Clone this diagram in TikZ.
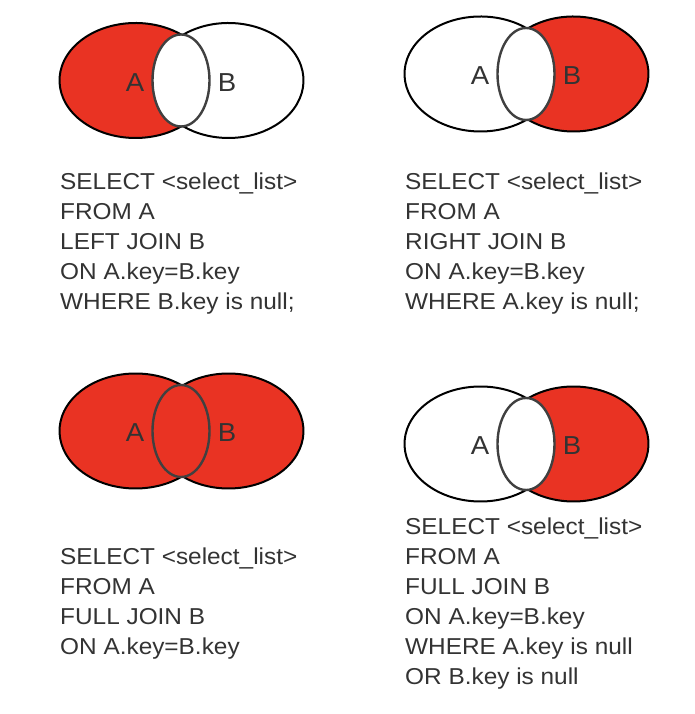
\documentclass[tikz,border=0pt]{standalone}
\usepackage{fontspec}
\setmainfont{Liberation Sans}[FakeStretch=1.06]
\definecolor{jred}{RGB}{233,51,35}
\definecolor{ink}{RGB}{51,51,51}
\definecolor{lensline}{RGB}{64,64,64}
\tikzset{
  outerline/.style={draw=black, line width=2pt},
  lensline/.style={draw=lensline, line width=2.4pt},
  setlabel/.style={text=ink, font=\fontsize{26}{26}\selectfont, inner sep=0pt},
  sql/.style={text=ink, font=\fontsize{23}{30}\selectfont, anchor=base west, inner sep=0pt},
}
\newcommand\vennpanel[6]{%
  \begin{scope}[shift={(#2,#3)}]
    \fill[#4] (-46.5,0) ellipse[x radius=76, y radius=57.5];
    \fill[#5] (46.5,0) ellipse[x radius=75, y radius=57.5];
    \draw[outerline] (-46.5,0) ++(52.3:76 and 57.5)
      arc[start angle=52.3, end angle=307.7, x radius=76, y radius=57.5];
    \draw[outerline] (46.5,0) ++(127.7:75 and 57.5)
      arc[start angle=127.7, end angle=-127.7, x radius=75, y radius=57.5];
    \draw[lensline, fill=#6] (-1,0) ellipse[x radius=28.5, y radius=46];
    \node[setlabel] (A#1) at (-47,-2) {A};
    \node[setlabel] (B#1) at (45,-2) {B};
  \end{scope}}
\begin{document}
\begin{tikzpicture}[x=1pt, y=1pt]
  \useasboundingbox[fill=white] (0,0) rectangle (694,714);
  \vennpanel{1}{182}{633.5}{jred}{white}{white}
  \vennpanel{2}{527}{640}{white}{jred}{white}
  \vennpanel{3}{182}{283}{jred}{jred}{jred}
  \vennpanel{4}{527}{270}{white}{jred}{white}
  \foreach [count=\i] \t in {SELECT <select\_list>, FROM A, LEFT JOIN B, ON A.key=B.key, WHERE B.key is null;}
    \node[sql] (qa\i) at (60,{524-30*(\i-1)}) {\t};
  \foreach [count=\i] \t in {SELECT <select\_list>, FROM A, RIGHT JOIN B, ON A.key=B.key, WHERE A.key is null;}
    \node[sql] (qb\i) at (405,{524-30*(\i-1)}) {\t};
  \foreach [count=\i] \t in {SELECT <select\_list>, FROM A, FULL JOIN B, ON A.key=B.key}
    \node[sql] (qc\i) at (60,{149-30*(\i-1)}) {\t};
  \foreach [count=\i] \t in {SELECT <select\_list>, FROM A, FULL JOIN B, ON A.key=B.key, WHERE A.key is null, OR B.key is null}
    \node[sql] (qd\i) at (405,{179-30*(\i-1)}) {\t};
\end{tikzpicture}
\end{document}
